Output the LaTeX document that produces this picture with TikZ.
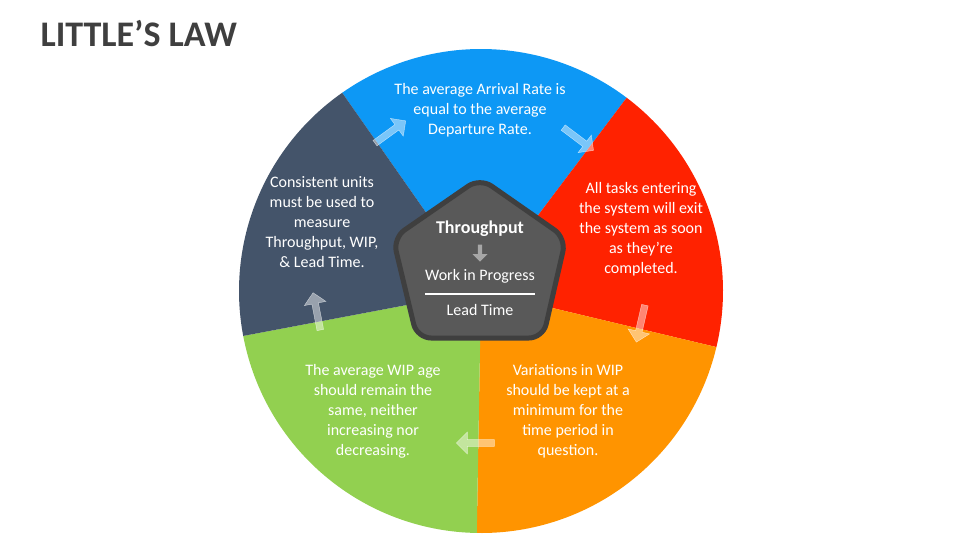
\documentclass[tikz,border=0pt]{standalone}
\usepackage{fontspec}
\setmainfont{Carlito}
\usetikzlibrary{shapes.arrows}
\definecolor{cblue}{HTML}{0D98F5}
\definecolor{cred}{HTML}{FF2200}
\definecolor{corange}{HTML}{FF9400}
\definecolor{cgreen}{HTML}{92D050}
\definecolor{cdark}{HTML}{44546A}
\definecolor{cpent}{HTML}{595959}
\definecolor{cpentb}{HTML}{3F3F3F}
\tikzset{
  wtext/.style={text=white,align=center,font=\fontsize{16}{20}\selectfont},
  flow/.style={single arrow,fill=white,fill opacity=0.45,draw=white,draw opacity=0.6,minimum height=38pt,minimum width=22pt,single arrow head extend=5pt,single arrow head indent=0pt,inner sep=2pt}
}
\begin{document}
\begin{tikzpicture}[x=1pt,y=-1pt]
\useasboundingbox (0,0) rectangle (960,540);
\fill[white] (0,0) rectangle (960,540);
\node[anchor=west,text=cpentb,font=\bfseries\fontsize{36}{36}\selectfont] (title) at (37,34) {LITTLE’S LAW};
\coordinate (c) at (481,291);
\def\R{242}
\fill[cblue] (c) -- ++(-125:\R) arc[start angle=-125,end angle=-53,radius=\R] -- cycle;
\fill[cred] (c) -- ++(-53:\R) arc[start angle=-53,end angle=13.4,radius=\R] -- cycle;
\fill[corange] (c) -- ++(13.4:\R) arc[start angle=13.4,end angle=91,radius=\R] -- cycle;
\fill[cgreen] (c) -- ++(91:\R) arc[start angle=91,end angle=169.3,radius=\R] -- cycle;
\fill[cdark] (c) -- ++(169.3:\R) arc[start angle=169.3,end angle=235,radius=\R] -- cycle;
\draw[cpentb,line width=5pt,fill=cpent,rounded corners=14pt] (480,178) -- (566,238) -- (543,338) -- (417,338) -- (393,238) -- cycle;
\node[wtext] (tb) at (480,110) {The average Arrival Rate is\\equal to the average\\Departure Rate.};
\node[wtext] (tr) at (641,229) {All tasks entering\\the system will exit\\the system as soon\\as they’re\\completed.};
\node[wtext] (to) at (568,411) {Variations in WIP\\should be kept at a\\minimum for the\\time period in\\question.};
\node[wtext] (tg) at (373,411) {The average WIP age\\should remain the\\same, neither\\increasing nor\\decreasing.};
\node[wtext] (td) at (322,222) {Consistent units\\must be used to\\measure\\Throughput, WIP,\\\& Lead Time.};
\node[text=white,font=\bfseries\fontsize{18}{18}\selectfont] (tp) at (480,229) {Throughput};
\node[single arrow,fill=gray!70,minimum height=17pt,minimum width=15pt,single arrow head extend=3pt,inner sep=1pt,rotate=-90] (da) at (480,252) {};
\node[text=white,font=\fontsize{16}{16}\selectfont] (wip) at (480,276) {Work in Progress};
\draw[white,line width=1.5pt] (425,294) -- (535,294);
\node[text=white,font=\fontsize{16}{16}\selectfont] (lt) at (480,310) {Lead Time};
\node[flow,rotate=-37] (a1) at (577,138) {};
\node[flow,rotate=-103] (a2) at (641,322) {};
\node[flow,rotate=180] (a3) at (477,443) {};
\node[flow,rotate=101] (a4) at (317,313) {};
\node[flow,rotate=36] (a5) at (389,133) {};
\end{tikzpicture}
\end{document}
